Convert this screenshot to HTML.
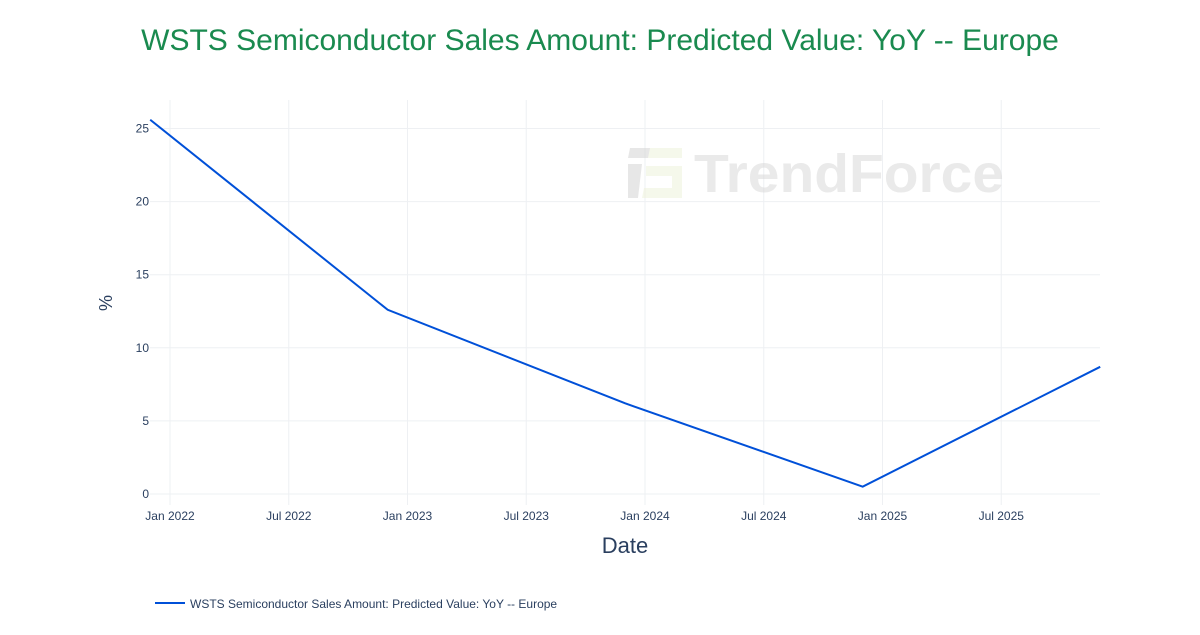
<!DOCTYPE html>
<html><head><meta charset="utf-8"><style>
body{margin:0;background:#fff;font-family:"Liberation Sans",Arial,sans-serif;}
svg text{font-family:"Liberation Sans",Arial,sans-serif;}
</style></head><body>
<svg id="chart" width="1200" height="630" xmlns="http://www.w3.org/2000/svg">
<rect width="1200" height="630" fill="#fff"/>
<text x="600" y="50" text-anchor="middle" font-size="30" fill="#1a8a4f">WSTS Semiconductor Sales Amount: Predicted Value: YoY -- Europe</text>
<g id="grid"></g>
<g id="watermark" opacity="0.55">
<path d="M630 148 L660 148 L656 158 L628 158 Z M628 164 L642 164 L638 198 L628 198 Z" fill="#d4d4d4"/>
<path d="M650 148 L682 148 L682 158 L648 158 Z M646 166 L682 166 L682 198 L642 198 L644 188 L672 188 L672 176 L646 176 Z" fill="#eef3dc"/>
<text x="694" y="192" font-size="54" font-weight="bold" fill="#d9d9d9" textLength="310" lengthAdjust="spacingAndGlyphs">TrendForce</text>
</g>
<g id="axes"></g>
<path id="line" fill="none" stroke="#0050d8" stroke-width="2"/>
<text x="625" y="553" text-anchor="middle" font-size="22" fill="#2a3f5f">Date</text>
<text transform="translate(112,303) rotate(-90)" text-anchor="middle" font-size="18" fill="#2a3f5f">%</text>
<g>
<line x1="155" y1="603" x2="185" y2="603" stroke="#0050d8" stroke-width="2"/>
<text x="190" y="608" font-size="12" fill="#2a3f5f">WSTS Semiconductor Sales Amount: Predicted Value: YoY -- Europe</text>
</g>
</svg>
<script>
const dates = ["2021-12","2022-12","2023-12","2024-12","2025-12"];
const values = [25.6, 12.6, 6.2, 0.5, 8.7];
const yTicks = [0,5,10,15,20,25];
const xTickDates = ["2022-01","2022-07","2023-01","2023-07","2024-01","2024-07","2025-01","2025-07"];
const xTickLabels = ["Jan 2022","Jul 2022","Jan 2023","Jul 2023","Jan 2024","Jul 2024","Jan 2025","Jul 2025"];
const NS="http://www.w3.org/2000/svg";
function monthIdx(s){const [y,m]=s.split("-").map(Number);return (y-2022)*12+(m-1);}
function xs(s){return 170+monthIdx(s)*237.5/12;}
function ys(v){return 494-v*14.62;}
const grid=document.getElementById("grid"), axes=document.getElementById("axes");
yTicks.forEach(t=>{
 const l=document.createElementNS(NS,"line");
 
 
 l.setAttribute("x1",150);l.setAttribute("x2",1100);l.setAttribute("y1",ys(t));l.setAttribute("y2",ys(t));
 l.setAttribute("stroke","#eef0f3");grid.appendChild(l);
 const tx=document.createElementNS(NS,"text");
 
 
 tx.setAttribute("x",149);tx.setAttribute("y",ys(t)+4);tx.setAttribute("text-anchor","end");
 tx.setAttribute("font-size","12");tx.setAttribute("fill","#2a3f5f");tx.textContent=t;axes.appendChild(tx);
});
xTickDates.forEach((d,i)=>{
 const x=xs(d);
 const l=document.createElementNS(NS,"line");
 
 
 l.setAttribute("x1",x);l.setAttribute("x2",x);l.setAttribute("y1",100);l.setAttribute("y2",505);
 l.setAttribute("stroke","#eef0f3");grid.appendChild(l);
 const tx=document.createElementNS(NS,"text");
 
 
 tx.setAttribute("x",x);tx.setAttribute("y",520);tx.setAttribute("text-anchor","middle");
 tx.setAttribute("font-size","12");tx.setAttribute("fill","#2a3f5f");tx.textContent=xTickLabels[i];axes.appendChild(tx);
});
document.getElementById("line").setAttribute("d",dates.map((d,i)=>(i?"L":"M")+xs(d)+" "+ys(values[i])).join(" "));
</script>
</body></html>
